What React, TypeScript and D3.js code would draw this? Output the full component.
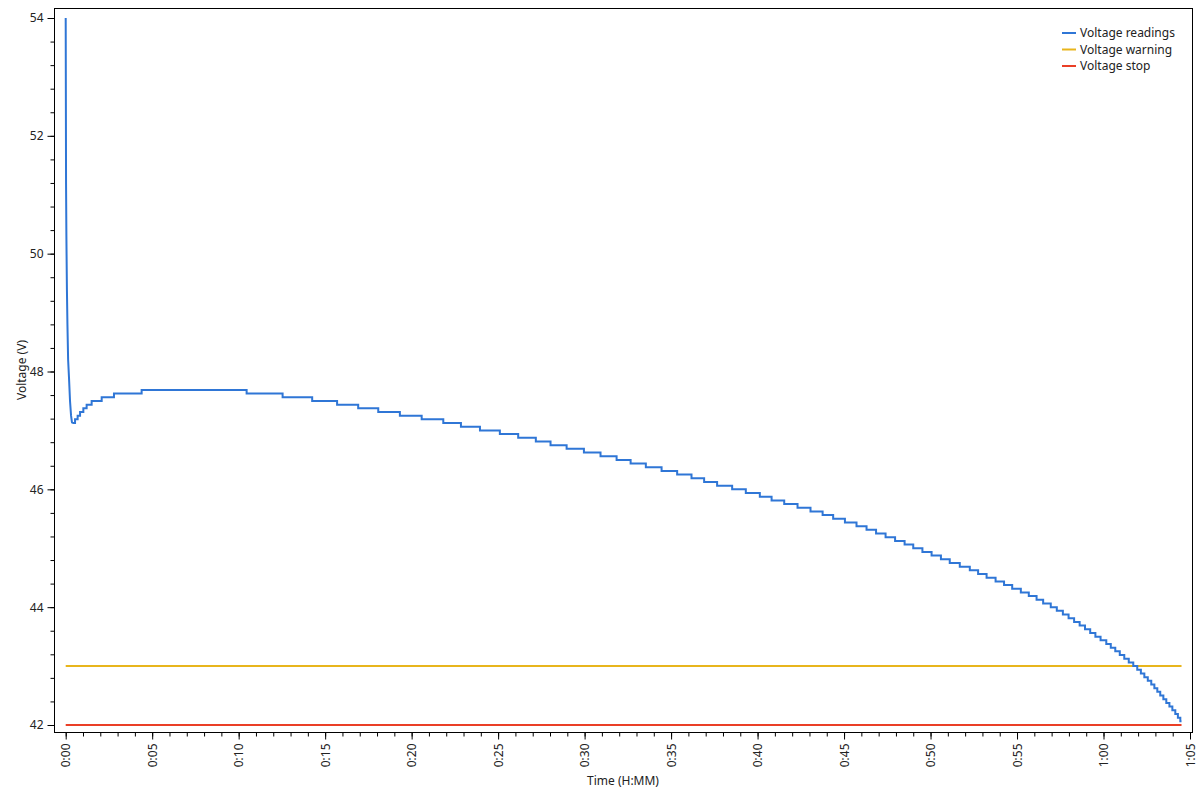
import * as d3 from 'd3';
import { useEffect, useRef } from 'react';

// time in minutes, voltage in V
const dropTimes = [0, 0.02, 0.04, 0.07, 0.1, 0.14, 0.19, 0.25, 0.31, 0.36, 0.38];
const dropVolts = [54, 51.2, 50.3, 49.4, 48.8, 48.2, 47.9, 47.5, 47.25, 47.14, 47.125];

// step changes: time the reading switched, value held afterwards
const stepTimes = [
    0.38, 0.54, 0.69, 0.83, 1.02, 1.21, 1.5, 2.08, 2.79, 4.39,
    10.46, 12.54, 14.25, 15.69, 16.91, 18.07, 19.32, 20.58, 21.83, 22.85,
    23.95, 25.1, 26.16, 27.18, 28.03, 28.96, 29.96, 30.92, 31.85, 32.66,
    33.54, 34.45, 35.35, 36.18, 36.91, 37.66, 38.53, 39.32, 40.13, 40.81,
    41.54, 42.31, 43.06, 43.76, 44.37, 45.05, 45.72, 46.3, 46.85, 47.4,
    47.95, 48.5, 49.0, 49.53, 50.06, 50.6, 51.11, 51.69, 52.27, 52.75,
    53.24, 53.76, 54.25, 54.72, 55.22, 55.68, 56.13, 56.51, 56.95, 57.3,
    57.65, 57.98, 58.3, 58.62, 58.93, 59.23, 59.53, 59.83, 60.16, 60.42,
    60.68, 60.94, 61.2, 61.46, 61.72, 61.95, 62.16, 62.36, 62.56, 62.76,
    62.94, 63.11, 63.28, 63.46, 63.63, 63.81, 63.98, 64.15, 64.3, 64.44,
    64.51,
];
const stepVolts = [
    47.125, 47.1875, 47.25, 47.3125, 47.375, 47.4375, 47.5, 47.5625, 47.625, 47.6875,
    47.625, 47.5625, 47.5, 47.4375, 47.375, 47.3125, 47.25, 47.1875, 47.125, 47.0625,
    47.0, 46.9375, 46.875, 46.8125, 46.75, 46.6875, 46.625, 46.5625, 46.5, 46.4375,
    46.375, 46.3125, 46.25, 46.1875, 46.125, 46.0625, 46.0, 45.9375, 45.875, 45.8125,
    45.75, 45.6875, 45.625, 45.5625, 45.5, 45.4375, 45.375, 45.3125, 45.25, 45.1875,
    45.125, 45.0625, 45.0, 44.9375, 44.875, 44.8125, 44.75, 44.6875, 44.625, 44.5625,
    44.5, 44.4375, 44.375, 44.3125, 44.25, 44.1875, 44.125, 44.0625, 44.0, 43.9375,
    43.875, 43.8125, 43.75, 43.6875, 43.625, 43.5625, 43.5, 43.4375, 43.375, 43.3125,
    43.25, 43.1875, 43.125, 43.0625, 43.0, 42.9375, 42.875, 42.8125, 42.75, 42.6875,
    42.625, 42.5625, 42.5, 42.4375, 42.375, 42.3125, 42.25, 42.1875, 42.125, 42.0625,
    42.0625,
];

const limitTimes = [0, 64.51];
const warningVolts = [43, 43];
const stopVolts = [42, 42];

const yMajorTicks = [42, 44, 46, 48, 50, 52, 54];
const xMajorTicks = [0, 5, 10, 15, 20, 25, 30, 35, 40, 45, 50, 55, 60, 65];

const seriesNames = ['Voltage readings', 'Voltage warning', 'Voltage stop'];
const seriesColors = ['#2f76d6', '#e8b51c', '#ea3f26'];

const FONT = '"Noto Sans", "Open Sans", sans-serif';

export default function App() {
    const chartRef = useRef<SVGSVGElement | null>(null);

    useEffect(() => {
        if (!chartRef.current) return;
        d3.select(chartRef.current).selectAll('*').remove();

        const svg = d3.select(chartRef.current);
        const width = 1200;
        const height = 800;
        const frame = { left: 54, right: 1192, top: 8, bottom: 732 };

        const x = d3.scaleLinear().domain([0, 65]).range([65.7, 1190]);
        const y = d3.scaleLinear().domain([42, 54]).range([725, 18]);

        svg.attr('viewBox', `0 0 ${width} ${height}`);
        svg.append('rect').attr('width', width).attr('height', height).attr('fill', '#fff');

        // frame
        svg.append('rect')
            .attr('x', frame.left + 0.5)
            .attr('y', frame.top + 0.5)
            .attr('width', frame.right - frame.left)
            .attr('height', frame.bottom - frame.top)
            .attr('fill', 'none')
            .attr('stroke', '#000')
            .attr('stroke-width', 1);

        const fmtTime = (m: number) => `${Math.floor(m / 60)}:${String(m % 60).padStart(2, '0')}`;

        // Y axis (minor every 0.4 V, major every 2 V)
        svg.append('g')
            .attr('transform', `translate(${frame.left + 0.5},0)`)
            .call(d3.axisLeft(y).tickValues(d3.range(42, 54.01, 0.4)).tickSize(4).tickFormat(() => ''))
            .call((g) => g.select('.domain').remove());
        svg.append('g')
            .attr('transform', `translate(${frame.left + 0.5},0)`)
            .call(d3.axisLeft(y).tickValues(yMajorTicks).tickSize(7).tickPadding(4).tickFormat(d3.format('d')))
            .call((g) => g.select('.domain').remove())
            .selectAll('text')
            .style('font-family', FONT)
            .style('font-size', '12px')
            .attr('fill', '#222');

        // X axis (minor every minute, major every 5)
        svg.append('g')
            .attr('transform', `translate(0,${frame.bottom + 0.5})`)
            .call(d3.axisBottom(x).tickValues(d3.range(0, 66, 1)).tickSize(4).tickFormat(() => ''))
            .call((g) => g.select('.domain').remove());
        svg.append('g')
            .attr('transform', `translate(0,${frame.bottom + 0.5})`)
            .call(d3.axisBottom(x).tickValues(xMajorTicks).tickSize(7).tickFormat((d) => fmtTime(+d)))
            .call((g) => g.select('.domain').remove())
            .selectAll('text')
            .style('font-family', FONT)
            .style('font-size', '12px')
            .attr('fill', '#222')
            .attr('transform', 'rotate(-90)')
            .attr('x', -11)
            .attr('y', 0)
            .attr('dy', '0.35em')
            .style('text-anchor', 'end');

        // axis titles
        svg.append('text')
            .attr('x', (frame.left + frame.right) / 2)
            .attr('y', 785)
            .attr('text-anchor', 'middle')
            .style('font-family', FONT)
            .style('font-size', '12px')
            .attr('fill', '#222')
            .text('Time (H:MM)');
        svg.append('text')
            .attr('transform', `translate(26,${(frame.top + frame.bottom) / 2}) rotate(-90)`)
            .attr('text-anchor', 'middle')
            .style('font-family', FONT)
            .style('font-size', '12px')
            .attr('fill', '#222')
            .text('Voltage (V)');

        // limit lines
        const linear = d3
            .line<[number, number]>()
            .x((d) => x(d[0]))
            .y((d) => y(d[1]));
        svg.append('path')
            .attr('d', linear(limitTimes.map((t, i) => [t, warningVolts[i]]))!)
            .attr('fill', 'none')
            .attr('stroke', seriesColors[1])
            .attr('stroke-width', 2);
        svg.append('path')
            .attr('d', linear(limitTimes.map((t, i) => [t, stopVolts[i]]))!)
            .attr('fill', 'none')
            .attr('stroke', seriesColors[2])
            .attr('stroke-width', 2);

        // readings: fast initial drop, then stepped values
        svg.append('path')
            .attr('d', linear(dropTimes.map((t, i) => [t, dropVolts[i]]))!)
            .attr('fill', 'none')
            .attr('stroke', seriesColors[0])
            .attr('stroke-width', 2)
            .attr('stroke-linejoin', 'round');
        const stepped = linear.curve(d3.curveStepAfter);
        svg.append('path')
            .attr('d', stepped(stepTimes.map((t, i) => [t, stepVolts[i]]))!)
            .attr('fill', 'none')
            .attr('stroke', seriesColors[0])
            .attr('stroke-width', 2)
            .attr('stroke-linejoin', 'miter');

        // legend
        const legend = svg.append('g').attr('transform', 'translate(1062,33)');
        seriesNames.forEach((name, i) => {
            const row = legend.append('g').attr('transform', `translate(0,${i * 16.5})`);
            row.append('line')
                .attr('x1', 0)
                .attr('x2', 14)
                .attr('stroke', seriesColors[i])
                .attr('stroke-width', 2);
            row.append('text')
                .attr('x', 18)
                .attr('dy', '0.35em')
                .style('font-family', FONT)
                .style('font-size', '12px')
                .attr('fill', '#222')
                .text(name);
        });
    }, []);

    return (
        <svg
            ref={chartRef}
            width={1200}
            height={800}
            style={{ position: 'absolute', left: 0, top: 0, display: 'block' }}
        />
    );
}
